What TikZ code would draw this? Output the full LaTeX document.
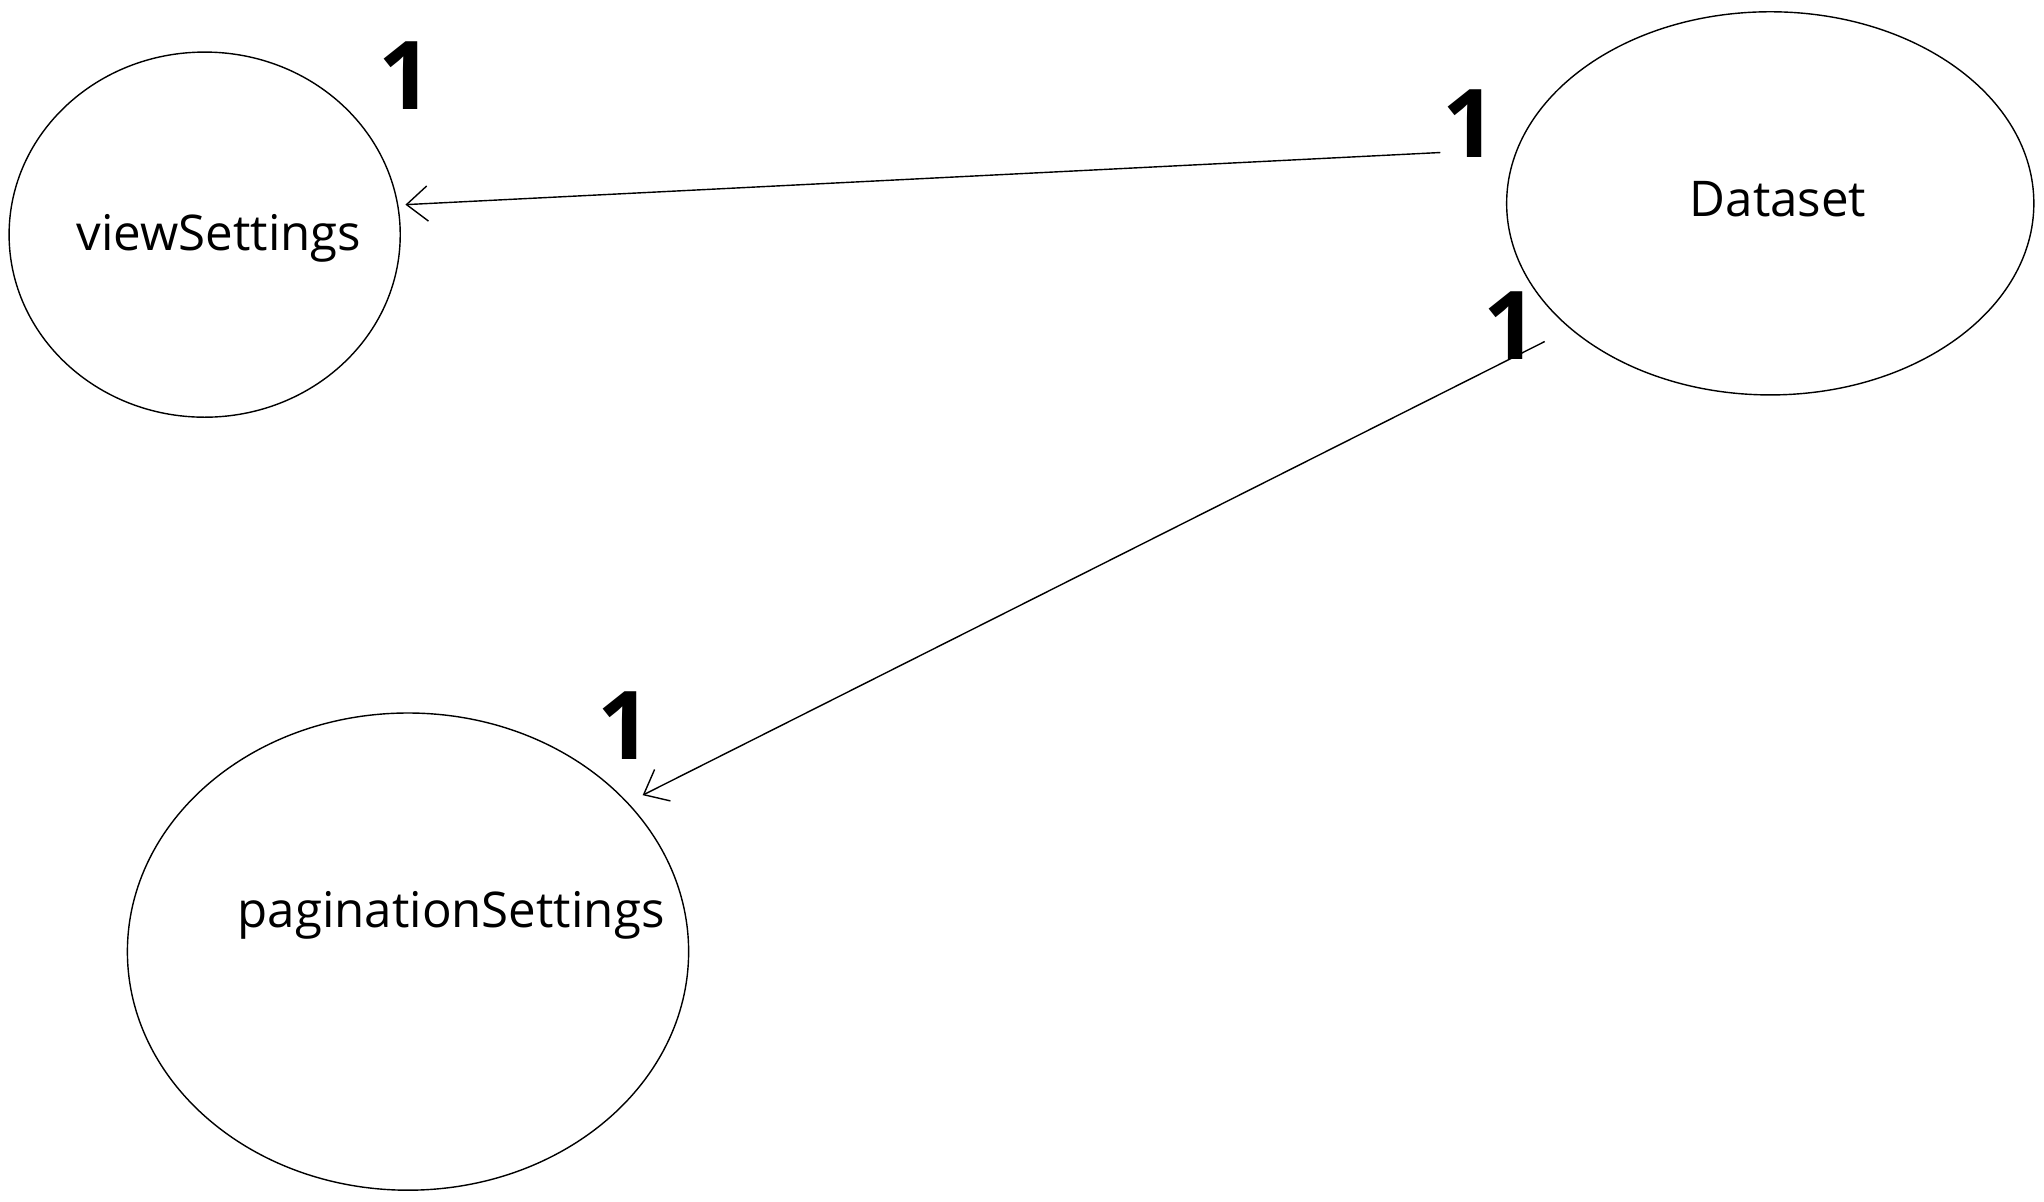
\documentclass[tikz,border=0pt]{standalone}
\usepackage{fontspec}
\setmainfont{Open Sans}
\usetikzlibrary{positioning,shapes.geometric,arrows.meta}
\begin{document}
\begin{tikzpicture}[x=0.013036cm,y=-0.013036cm,
                    thin,
                    main node/.style={ellipse,draw,inner sep=0pt},
                    name text/.style={font=\fontsize{14}{17}\selectfont},
                    card/.style={font=\fontsize{27}{27}\selectfont\bfseries},
                    link/.style={-{Straight Barb[length=6pt,width=10pt]}}
                   ]
   \useasboundingbox (0,0) rectangle (1568,922);
   \node[main node,minimum width=3.91cm,minimum height=3.65cm] (view) at (157,180) {};
   \node[main node,minimum width=5.27cm,minimum height=3.83cm] (data) at (1358,156) {};
   \node[main node,minimum width=5.61cm,minimum height=4.77cm] (page) at (313,730) {};
   \node[name text] (viewT) at (168,183) {viewSettings};
   \node[name text] (dataT) at (1364,153) {Dataset};
   \node[name text] (pageT) at (346,702) {paginationSettings};
   % multiplicities
   \node[card] (c1) at (311,58) {1};
   \node[card] (c2) at (1127,95) {1};
   \node[card] (c3) at (1159,250) {1};
   \node[card] (c4) at (479,557) {1};
   % link ends
   \coordinate (a1) at (1105,117);
   \coordinate (b1) at (311,157);
   \coordinate (a2) at (1185,262);
   \coordinate (b2) at (493,610);
   \draw[link] (a1) -- (b1);
   \draw[link] (a2) -- (b2);
\end{tikzpicture}
\end{document}
